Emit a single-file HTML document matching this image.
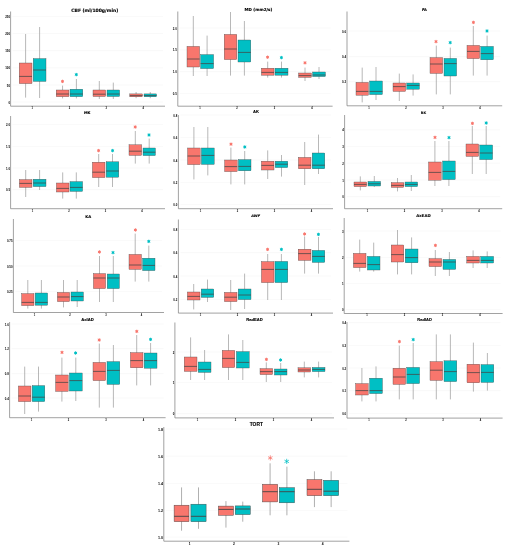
<!DOCTYPE html>
<html lang="en"><head><meta charset="utf-8"><title>Box plots</title>
<style>html,body{margin:0;padding:0;background:#fff}svg{display:block}</style></head><body>
<svg width="511" height="550" viewBox="0 0 511 550">
<rect width="511" height="550" fill="#fff"/>
<g>
<line x1="12.6" y1="16.4" x2="163" y2="16.4" stroke="#f3f3f3" stroke-width="0.5"/>
<line x1="12.6" y1="33.5" x2="163" y2="33.5" stroke="#f3f3f3" stroke-width="0.5"/>
<line x1="12.6" y1="50.6" x2="163" y2="50.6" stroke="#f3f3f3" stroke-width="0.5"/>
<line x1="12.6" y1="67.8" x2="163" y2="67.8" stroke="#f3f3f3" stroke-width="0.5"/>
<line x1="12.6" y1="85" x2="163" y2="85" stroke="#f3f3f3" stroke-width="0.5"/>
<line x1="12.6" y1="102" x2="163" y2="102" stroke="#f3f3f3" stroke-width="0.5"/>
<path d="M10.6 11.5V106.2H165" fill="none" stroke="#7a7a7a" stroke-width="0.7"/>
<text x="10.0" y="18.04" font-size="2.9" text-anchor="end" font-family="Liberation Sans, sans-serif" font-weight="bold" fill="#000">250</text>
<text x="10.0" y="35.14" font-size="2.9" text-anchor="end" font-family="Liberation Sans, sans-serif" font-weight="bold" fill="#000">200</text>
<text x="10.0" y="52.24" font-size="2.9" text-anchor="end" font-family="Liberation Sans, sans-serif" font-weight="bold" fill="#000">150</text>
<text x="10.0" y="69.44" font-size="2.9" text-anchor="end" font-family="Liberation Sans, sans-serif" font-weight="bold" fill="#000">100</text>
<text x="10.0" y="86.64" font-size="2.9" text-anchor="end" font-family="Liberation Sans, sans-serif" font-weight="bold" fill="#000">50</text>
<text x="10.0" y="103.64" font-size="2.9" text-anchor="end" font-family="Liberation Sans, sans-serif" font-weight="bold" fill="#000">0</text>
<text x="32.2" y="109.1" font-size="2.6" text-anchor="middle" font-family="Liberation Sans, sans-serif" font-weight="bold" fill="#000">1</text>
<text x="69.5" y="109.1" font-size="2.6" text-anchor="middle" font-family="Liberation Sans, sans-serif" font-weight="bold" fill="#000">2</text>
<text x="106.2" y="109.1" font-size="2.6" text-anchor="middle" font-family="Liberation Sans, sans-serif" font-weight="bold" fill="#000">3</text>
<text x="143.2" y="109.1" font-size="2.6" text-anchor="middle" font-family="Liberation Sans, sans-serif" font-weight="bold" fill="#000">4</text>
<text x="94.7" y="11.8" font-size="4.5" text-anchor="middle" font-family="DejaVu Sans, Liberation Sans, sans-serif" font-weight="bold" fill="#000" stroke="#000" stroke-width="0.12">CBF (ml/100g/min)</text>
<line x1="25.60" y1="34" x2="25.60" y2="97.6" stroke="#929292" stroke-width="0.65"/>
<rect x="19.2" y="63" width="12.80" height="20.60" fill="#F8766D" stroke="#444" stroke-width="0.35"/>
<line x1="19.2" y1="76.4" x2="32" y2="76.4" stroke="#444" stroke-width="0.75"/>
<line x1="39.60" y1="27" x2="39.60" y2="98" stroke="#929292" stroke-width="0.65"/>
<rect x="33.2" y="58.6" width="12.80" height="22.80" fill="#00BFC4" stroke="#444" stroke-width="0.35"/>
<line x1="33.2" y1="70" x2="46" y2="70" stroke="#444" stroke-width="0.75"/>
<line x1="62.55" y1="85.6" x2="62.55" y2="98.4" stroke="#929292" stroke-width="0.65"/>
<rect x="56.2" y="90" width="12.70" height="6.70" fill="#F8766D" stroke="#444" stroke-width="0.35"/>
<line x1="56.2" y1="94" x2="68.9" y2="94" stroke="#444" stroke-width="0.75"/>
<g stroke="#F8766D" stroke-width="0.9" stroke-linecap="round" fill="#F8766D"><line x1="62.50" y1="80.10" x2="62.50" y2="82.70"/><line x1="61.37" y1="80.75" x2="63.63" y2="82.05"/><line x1="63.63" y1="80.75" x2="61.37" y2="82.05"/><circle cx="62.5" cy="81.4" r="1.15" stroke="none"/></g>
<line x1="76.40" y1="79" x2="76.40" y2="98.4" stroke="#929292" stroke-width="0.65"/>
<rect x="70" y="89.2" width="12.80" height="7.50" fill="#00BFC4" stroke="#444" stroke-width="0.35"/>
<line x1="70" y1="94" x2="82.8" y2="94" stroke="#444" stroke-width="0.75"/>
<g stroke="#00BFC4" stroke-width="0.9" stroke-linecap="round" fill="#00BFC4"><line x1="76.30" y1="73.30" x2="76.30" y2="75.90"/><line x1="75.17" y1="73.95" x2="77.43" y2="75.25"/><line x1="77.43" y1="73.95" x2="75.17" y2="75.25"/><circle cx="76.3" cy="74.6" r="1.15" stroke="none"/></g>
<line x1="99.30" y1="81" x2="99.30" y2="99" stroke="#929292" stroke-width="0.65"/>
<rect x="93" y="90" width="12.60" height="6.50" fill="#F8766D" stroke="#444" stroke-width="0.35"/>
<line x1="93" y1="94.2" x2="105.6" y2="94.2" stroke="#444" stroke-width="0.75"/>
<line x1="113.30" y1="82.6" x2="113.30" y2="99" stroke="#929292" stroke-width="0.65"/>
<rect x="107" y="90" width="12.60" height="6.50" fill="#00BFC4" stroke="#444" stroke-width="0.35"/>
<line x1="107" y1="94.0" x2="119.6" y2="94.0" stroke="#444" stroke-width="0.75"/>
<line x1="136.10" y1="92" x2="136.10" y2="98.2" stroke="#929292" stroke-width="0.65"/>
<rect x="129.8" y="93.9" width="12.60" height="2.90" fill="#F8766D" stroke="#444" stroke-width="0.35"/>
<line x1="129.8" y1="95.6" x2="142.4" y2="95.6" stroke="#444" stroke-width="0.75"/>
<line x1="150.25" y1="92" x2="150.25" y2="98.2" stroke="#929292" stroke-width="0.65"/>
<rect x="144" y="93.9" width="12.50" height="2.90" fill="#00BFC4" stroke="#444" stroke-width="0.35"/>
<line x1="144" y1="95.6" x2="156.5" y2="95.6" stroke="#444" stroke-width="0.75"/>
</g>
<g>
<line x1="179.8" y1="28" x2="330.6" y2="28" stroke="#f3f3f3" stroke-width="0.5"/>
<line x1="179.8" y1="49.8" x2="330.6" y2="49.8" stroke="#f3f3f3" stroke-width="0.5"/>
<line x1="179.8" y1="71.6" x2="330.6" y2="71.6" stroke="#f3f3f3" stroke-width="0.5"/>
<line x1="179.8" y1="93.4" x2="330.6" y2="93.4" stroke="#f3f3f3" stroke-width="0.5"/>
<path d="M177.8 11.5V106.2H332.6" fill="none" stroke="#7a7a7a" stroke-width="0.7"/>
<text x="176.8" y="29.64" font-size="2.9" text-anchor="end" font-family="Liberation Sans, sans-serif" font-weight="bold" fill="#000">2.0</text>
<text x="176.8" y="51.44" font-size="2.9" text-anchor="end" font-family="Liberation Sans, sans-serif" font-weight="bold" fill="#000">1.5</text>
<text x="176.8" y="73.24" font-size="2.9" text-anchor="end" font-family="Liberation Sans, sans-serif" font-weight="bold" fill="#000">1.0</text>
<text x="176.8" y="95.04" font-size="2.9" text-anchor="end" font-family="Liberation Sans, sans-serif" font-weight="bold" fill="#000">0.5</text>
<text x="200" y="109.1" font-size="2.6" text-anchor="middle" font-family="Liberation Sans, sans-serif" font-weight="bold" fill="#000">1</text>
<text x="237" y="109.1" font-size="2.6" text-anchor="middle" font-family="Liberation Sans, sans-serif" font-weight="bold" fill="#000">2</text>
<text x="274.6" y="109.1" font-size="2.6" text-anchor="middle" font-family="Liberation Sans, sans-serif" font-weight="bold" fill="#000">3</text>
<text x="312" y="109.1" font-size="2.6" text-anchor="middle" font-family="Liberation Sans, sans-serif" font-weight="bold" fill="#000">4</text>
<text x="258.4" y="10.5" font-size="4.07" text-anchor="middle" font-family="DejaVu Sans, Liberation Sans, sans-serif" font-weight="bold" fill="#000" stroke="#000" stroke-width="0.12">MD (mm2/s)</text>
<line x1="193.30" y1="16" x2="193.30" y2="76" stroke="#929292" stroke-width="0.65"/>
<rect x="187" y="46.4" width="12.60" height="20.60" fill="#F8766D" stroke="#444" stroke-width="0.35"/>
<line x1="187" y1="59" x2="199.6" y2="59" stroke="#444" stroke-width="0.75"/>
<line x1="207.10" y1="35.6" x2="207.10" y2="76" stroke="#929292" stroke-width="0.65"/>
<rect x="200.6" y="54.6" width="13.00" height="14.00" fill="#00BFC4" stroke="#444" stroke-width="0.35"/>
<line x1="200.6" y1="63.6" x2="213.6" y2="63.6" stroke="#444" stroke-width="0.75"/>
<line x1="230.50" y1="12" x2="230.50" y2="75.6" stroke="#929292" stroke-width="0.65"/>
<rect x="224.2" y="34.4" width="12.60" height="25.20" fill="#F8766D" stroke="#444" stroke-width="0.35"/>
<line x1="224.2" y1="49" x2="236.8" y2="49" stroke="#444" stroke-width="0.75"/>
<line x1="244.40" y1="21" x2="244.40" y2="75.6" stroke="#929292" stroke-width="0.65"/>
<rect x="238" y="40" width="12.80" height="22.00" fill="#00BFC4" stroke="#444" stroke-width="0.35"/>
<line x1="238" y1="52.4" x2="250.8" y2="52.4" stroke="#444" stroke-width="0.75"/>
<line x1="267.70" y1="61.6" x2="267.70" y2="77.6" stroke="#929292" stroke-width="0.65"/>
<rect x="261.4" y="68.2" width="12.60" height="7.00" fill="#F8766D" stroke="#444" stroke-width="0.35"/>
<line x1="261.4" y1="72.4" x2="274" y2="72.4" stroke="#444" stroke-width="0.75"/>
<g stroke="#F8766D" stroke-width="0.9" stroke-linecap="round" fill="#F8766D"><line x1="267.60" y1="55.90" x2="267.60" y2="58.50"/><line x1="266.47" y1="56.55" x2="268.73" y2="57.85"/><line x1="268.73" y1="56.55" x2="266.47" y2="57.85"/><circle cx="267.6" cy="57.2" r="1.15" stroke="none"/></g>
<line x1="281.50" y1="61.6" x2="281.50" y2="77.6" stroke="#929292" stroke-width="0.65"/>
<rect x="275" y="68.2" width="13.00" height="7.00" fill="#00BFC4" stroke="#444" stroke-width="0.35"/>
<line x1="275" y1="72.4" x2="288" y2="72.4" stroke="#444" stroke-width="0.75"/>
<g stroke="#00BFC4" stroke-width="0.9" stroke-linecap="round" fill="#00BFC4"><line x1="281.40" y1="56.30" x2="281.40" y2="58.90"/><line x1="280.27" y1="56.95" x2="282.53" y2="58.25"/><line x1="282.53" y1="56.95" x2="280.27" y2="58.25"/><circle cx="281.4" cy="57.6" r="1.15" stroke="none"/></g>
<line x1="305.00" y1="67.6" x2="305.00" y2="81" stroke="#929292" stroke-width="0.65"/>
<rect x="298.6" y="73" width="12.80" height="4.40" fill="#F8766D" stroke="#444" stroke-width="0.35"/>
<line x1="298.6" y1="75.6" x2="311.4" y2="75.6" stroke="#444" stroke-width="0.75"/>
<g stroke="#F8766D" stroke-width="0.9" stroke-linecap="round" fill="#F8766D"><line x1="305.00" y1="61.50" x2="305.00" y2="64.10"/><line x1="303.87" y1="62.15" x2="306.13" y2="63.45"/><line x1="306.13" y1="62.15" x2="303.87" y2="63.45"/><circle cx="305" cy="62.8" r="1.15" stroke="none"/></g>
<line x1="319.00" y1="67" x2="319.00" y2="79" stroke="#929292" stroke-width="0.65"/>
<rect x="312.6" y="72" width="12.80" height="4.60" fill="#00BFC4" stroke="#444" stroke-width="0.35"/>
<line x1="312.6" y1="75" x2="325.4" y2="75" stroke="#444" stroke-width="0.75"/>
</g>
<g>
<line x1="349" y1="31" x2="500.2" y2="31" stroke="#f3f3f3" stroke-width="0.5"/>
<line x1="349" y1="56.6" x2="500.2" y2="56.6" stroke="#f3f3f3" stroke-width="0.5"/>
<line x1="349" y1="81.6" x2="500.2" y2="81.6" stroke="#f3f3f3" stroke-width="0.5"/>
<path d="M347 11.5V105.8H502.2" fill="none" stroke="#7a7a7a" stroke-width="0.7"/>
<text x="346" y="32.64" font-size="2.9" text-anchor="end" font-family="Liberation Sans, sans-serif" font-weight="bold" fill="#000">0.6</text>
<text x="346" y="58.24" font-size="2.9" text-anchor="end" font-family="Liberation Sans, sans-serif" font-weight="bold" fill="#000">0.4</text>
<text x="346" y="83.24" font-size="2.9" text-anchor="end" font-family="Liberation Sans, sans-serif" font-weight="bold" fill="#000">0.2</text>
<text x="369" y="108.8" font-size="2.6" text-anchor="middle" font-family="Liberation Sans, sans-serif" font-weight="bold" fill="#000">1</text>
<text x="406" y="108.8" font-size="2.6" text-anchor="middle" font-family="Liberation Sans, sans-serif" font-weight="bold" fill="#000">2</text>
<text x="443" y="108.8" font-size="2.6" text-anchor="middle" font-family="Liberation Sans, sans-serif" font-weight="bold" fill="#000">3</text>
<text x="480" y="108.8" font-size="2.6" text-anchor="middle" font-family="Liberation Sans, sans-serif" font-weight="bold" fill="#000">4</text>
<text x="424.5" y="10.5" font-size="3.6" text-anchor="middle" font-family="DejaVu Sans, Liberation Sans, sans-serif" font-weight="bold" fill="#000" stroke="#000" stroke-width="0.12">FA</text>
<line x1="362.20" y1="67.6" x2="362.20" y2="102.4" stroke="#929292" stroke-width="0.65"/>
<rect x="356" y="82.4" width="12.40" height="12.80" fill="#F8766D" stroke="#444" stroke-width="0.35"/>
<line x1="356" y1="91.4" x2="368.4" y2="91.4" stroke="#444" stroke-width="0.75"/>
<line x1="376.00" y1="67" x2="376.00" y2="100" stroke="#929292" stroke-width="0.65"/>
<rect x="369.6" y="81" width="12.80" height="13.60" fill="#00BFC4" stroke="#444" stroke-width="0.35"/>
<line x1="369.6" y1="91.4" x2="382.4" y2="91.4" stroke="#444" stroke-width="0.75"/>
<line x1="399.30" y1="73.6" x2="399.30" y2="101" stroke="#929292" stroke-width="0.65"/>
<rect x="393" y="83" width="12.60" height="8.40" fill="#F8766D" stroke="#444" stroke-width="0.35"/>
<line x1="393" y1="86.6" x2="405.6" y2="86.6" stroke="#444" stroke-width="0.75"/>
<line x1="413.10" y1="74.4" x2="413.10" y2="95.6" stroke="#929292" stroke-width="0.65"/>
<rect x="406.8" y="83" width="12.60" height="6.20" fill="#00BFC4" stroke="#444" stroke-width="0.35"/>
<line x1="406.8" y1="85.4" x2="419.4" y2="85.4" stroke="#444" stroke-width="0.75"/>
<line x1="436.30" y1="45.6" x2="436.30" y2="94.4" stroke="#929292" stroke-width="0.65"/>
<rect x="430" y="57.6" width="12.60" height="15.80" fill="#F8766D" stroke="#444" stroke-width="0.35"/>
<line x1="430" y1="64" x2="442.6" y2="64" stroke="#444" stroke-width="0.75"/>
<g stroke="#F8766D" stroke-width="0.9" stroke-linecap="round" fill="#F8766D"><line x1="436.00" y1="40.30" x2="436.00" y2="42.90"/><line x1="434.87" y1="40.95" x2="437.13" y2="42.25"/><line x1="437.13" y1="40.95" x2="434.87" y2="42.25"/><circle cx="436" cy="41.6" r="1.15" stroke="none"/></g>
<line x1="450.30" y1="47.6" x2="450.30" y2="94.4" stroke="#929292" stroke-width="0.65"/>
<rect x="444" y="58.4" width="12.60" height="17.60" fill="#00BFC4" stroke="#444" stroke-width="0.35"/>
<line x1="444" y1="63.6" x2="456.6" y2="63.6" stroke="#444" stroke-width="0.75"/>
<g stroke="#00BFC4" stroke-width="0.9" stroke-linecap="round" fill="#00BFC4"><line x1="450.20" y1="41.30" x2="450.20" y2="43.90"/><line x1="449.07" y1="41.95" x2="451.33" y2="43.25"/><line x1="451.33" y1="41.95" x2="449.07" y2="43.25"/><circle cx="450.2" cy="42.6" r="1.15" stroke="none"/></g>
<line x1="473.30" y1="26" x2="473.30" y2="75.6" stroke="#929292" stroke-width="0.65"/>
<rect x="467" y="45.4" width="12.60" height="13.20" fill="#F8766D" stroke="#444" stroke-width="0.35"/>
<line x1="467" y1="51.4" x2="479.6" y2="51.4" stroke="#444" stroke-width="0.75"/>
<g stroke="#F8766D" stroke-width="0.9" stroke-linecap="round" fill="#F8766D"><line x1="473.40" y1="21.10" x2="473.40" y2="23.70"/><line x1="472.27" y1="21.75" x2="474.53" y2="23.05"/><line x1="474.53" y1="21.75" x2="472.27" y2="23.05"/><circle cx="473.4" cy="22.4" r="1.15" stroke="none"/></g>
<line x1="487.10" y1="35.6" x2="487.10" y2="75.6" stroke="#929292" stroke-width="0.65"/>
<rect x="480.8" y="46.4" width="12.60" height="13.40" fill="#00BFC4" stroke="#444" stroke-width="0.35"/>
<line x1="480.8" y1="53.6" x2="493.4" y2="53.6" stroke="#444" stroke-width="0.75"/>
<g stroke="#00BFC4" stroke-width="0.9" stroke-linecap="round" fill="#00BFC4"><line x1="487.00" y1="29.70" x2="487.00" y2="32.30"/><line x1="485.87" y1="30.35" x2="488.13" y2="31.65"/><line x1="488.13" y1="30.35" x2="485.87" y2="31.65"/><circle cx="487" cy="31" r="1.15" stroke="none"/></g>
</g>
<g>
<line x1="12.6" y1="124.4" x2="163" y2="124.4" stroke="#f3f3f3" stroke-width="0.5"/>
<line x1="12.6" y1="146.4" x2="163" y2="146.4" stroke="#f3f3f3" stroke-width="0.5"/>
<line x1="12.6" y1="168" x2="163" y2="168" stroke="#f3f3f3" stroke-width="0.5"/>
<line x1="12.6" y1="189.6" x2="163" y2="189.6" stroke="#f3f3f3" stroke-width="0.5"/>
<path d="M10.6 116V208.7H165" fill="none" stroke="#7a7a7a" stroke-width="0.7"/>
<text x="10.0" y="126.04" font-size="2.9" text-anchor="end" font-family="Liberation Sans, sans-serif" font-weight="bold" fill="#000">2.0</text>
<text x="10.0" y="148.04" font-size="2.9" text-anchor="end" font-family="Liberation Sans, sans-serif" font-weight="bold" fill="#000">1.5</text>
<text x="10.0" y="169.64" font-size="2.9" text-anchor="end" font-family="Liberation Sans, sans-serif" font-weight="bold" fill="#000">1.0</text>
<text x="10.0" y="191.24" font-size="2.9" text-anchor="end" font-family="Liberation Sans, sans-serif" font-weight="bold" fill="#000">0.5</text>
<text x="32.4" y="211.8" font-size="2.6" text-anchor="middle" font-family="Liberation Sans, sans-serif" font-weight="bold" fill="#000">1</text>
<text x="69" y="211.8" font-size="2.6" text-anchor="middle" font-family="Liberation Sans, sans-serif" font-weight="bold" fill="#000">2</text>
<text x="105.6" y="211.8" font-size="2.6" text-anchor="middle" font-family="Liberation Sans, sans-serif" font-weight="bold" fill="#000">3</text>
<text x="142" y="211.8" font-size="2.6" text-anchor="middle" font-family="Liberation Sans, sans-serif" font-weight="bold" fill="#000">4</text>
<text x="87.2" y="113.8" font-size="3.62" text-anchor="middle" font-family="DejaVu Sans, Liberation Sans, sans-serif" font-weight="bold" fill="#000" stroke="#000" stroke-width="0.12">MK</text>
<line x1="25.70" y1="170" x2="25.70" y2="197" stroke="#929292" stroke-width="0.65"/>
<rect x="19.4" y="179.6" width="12.60" height="7.80" fill="#F8766D" stroke="#444" stroke-width="0.35"/>
<line x1="19.4" y1="183.4" x2="32" y2="183.4" stroke="#444" stroke-width="0.75"/>
<line x1="39.60" y1="170" x2="39.60" y2="190" stroke="#929292" stroke-width="0.65"/>
<rect x="33.2" y="179.2" width="12.80" height="7.40" fill="#00BFC4" stroke="#444" stroke-width="0.35"/>
<line x1="33.2" y1="183" x2="46" y2="183" stroke="#444" stroke-width="0.75"/>
<line x1="62.70" y1="172.4" x2="62.70" y2="198.6" stroke="#929292" stroke-width="0.65"/>
<rect x="56.4" y="183" width="12.60" height="9.00" fill="#F8766D" stroke="#444" stroke-width="0.35"/>
<line x1="56.4" y1="188.4" x2="69" y2="188.4" stroke="#444" stroke-width="0.75"/>
<line x1="76.30" y1="172.4" x2="76.30" y2="198.6" stroke="#929292" stroke-width="0.65"/>
<rect x="70" y="181.6" width="12.60" height="9.80" fill="#00BFC4" stroke="#444" stroke-width="0.35"/>
<line x1="70" y1="187.4" x2="82.6" y2="187.4" stroke="#444" stroke-width="0.75"/>
<line x1="98.70" y1="154" x2="98.70" y2="187" stroke="#929292" stroke-width="0.65"/>
<rect x="92.4" y="162.2" width="12.60" height="15.40" fill="#F8766D" stroke="#444" stroke-width="0.35"/>
<line x1="92.4" y1="172.2" x2="105" y2="172.2" stroke="#444" stroke-width="0.75"/>
<g stroke="#F8766D" stroke-width="0.9" stroke-linecap="round" fill="#F8766D"><line x1="98.60" y1="149.30" x2="98.60" y2="151.90"/><line x1="97.47" y1="149.95" x2="99.73" y2="151.25"/><line x1="99.73" y1="149.95" x2="97.47" y2="151.25"/><circle cx="98.6" cy="150.6" r="1.15" stroke="none"/></g>
<line x1="112.50" y1="154" x2="112.50" y2="187" stroke="#929292" stroke-width="0.65"/>
<rect x="106.2" y="161.8" width="12.60" height="15.40" fill="#00BFC4" stroke="#444" stroke-width="0.35"/>
<line x1="106.2" y1="171" x2="118.8" y2="171" stroke="#444" stroke-width="0.75"/>
<g stroke="#00BFC4" stroke-width="0.9" stroke-linecap="round" fill="#00BFC4"><line x1="112.60" y1="149.30" x2="112.60" y2="151.90"/><line x1="111.47" y1="149.95" x2="113.73" y2="151.25"/><line x1="113.73" y1="149.95" x2="111.47" y2="151.25"/><circle cx="112.6" cy="150.6" r="1.15" stroke="none"/></g>
<line x1="135.30" y1="131" x2="135.30" y2="163.6" stroke="#929292" stroke-width="0.65"/>
<rect x="129" y="144.8" width="12.60" height="10.60" fill="#F8766D" stroke="#444" stroke-width="0.35"/>
<line x1="129" y1="151.2" x2="141.6" y2="151.2" stroke="#444" stroke-width="0.75"/>
<g stroke="#F8766D" stroke-width="0.9" stroke-linecap="round" fill="#F8766D"><line x1="135.20" y1="125.70" x2="135.20" y2="128.30"/><line x1="134.07" y1="126.35" x2="136.33" y2="127.65"/><line x1="136.33" y1="126.35" x2="134.07" y2="127.65"/><circle cx="135.2" cy="127" r="1.15" stroke="none"/></g>
<line x1="149.20" y1="138.6" x2="149.20" y2="163.6" stroke="#929292" stroke-width="0.65"/>
<rect x="143" y="148" width="12.40" height="7.60" fill="#00BFC4" stroke="#444" stroke-width="0.35"/>
<line x1="143" y1="152.2" x2="155.4" y2="152.2" stroke="#444" stroke-width="0.75"/>
<g stroke="#00BFC4" stroke-width="0.9" stroke-linecap="round" fill="#00BFC4"><line x1="149.00" y1="133.70" x2="149.00" y2="136.30"/><line x1="147.87" y1="134.35" x2="150.13" y2="135.65"/><line x1="150.13" y1="134.35" x2="147.87" y2="135.65"/><circle cx="149" cy="135" r="1.15" stroke="none"/></g>
</g>
<g>
<line x1="180.4" y1="115" x2="331" y2="115" stroke="#f3f3f3" stroke-width="0.5"/>
<line x1="180.4" y1="137.4" x2="331" y2="137.4" stroke="#f3f3f3" stroke-width="0.5"/>
<line x1="180.4" y1="160" x2="331" y2="160" stroke="#f3f3f3" stroke-width="0.5"/>
<line x1="180.4" y1="182.4" x2="331" y2="182.4" stroke="#f3f3f3" stroke-width="0.5"/>
<line x1="180.4" y1="204.4" x2="331" y2="204.4" stroke="#f3f3f3" stroke-width="0.5"/>
<path d="M178.4 115V208.7H333" fill="none" stroke="#7a7a7a" stroke-width="0.7"/>
<text x="177.4" y="116.64" font-size="2.9" text-anchor="end" font-family="Liberation Sans, sans-serif" font-weight="bold" fill="#000">0.8</text>
<text x="177.4" y="139.04" font-size="2.9" text-anchor="end" font-family="Liberation Sans, sans-serif" font-weight="bold" fill="#000">0.6</text>
<text x="177.4" y="161.64" font-size="2.9" text-anchor="end" font-family="Liberation Sans, sans-serif" font-weight="bold" fill="#000">0.4</text>
<text x="177.4" y="184.04" font-size="2.9" text-anchor="end" font-family="Liberation Sans, sans-serif" font-weight="bold" fill="#000">0.2</text>
<text x="177.4" y="206.04" font-size="2.9" text-anchor="end" font-family="Liberation Sans, sans-serif" font-weight="bold" fill="#000">0.0</text>
<text x="200.4" y="211.8" font-size="2.6" text-anchor="middle" font-family="Liberation Sans, sans-serif" font-weight="bold" fill="#000">1</text>
<text x="237.4" y="211.8" font-size="2.6" text-anchor="middle" font-family="Liberation Sans, sans-serif" font-weight="bold" fill="#000">2</text>
<text x="274.6" y="211.8" font-size="2.6" text-anchor="middle" font-family="Liberation Sans, sans-serif" font-weight="bold" fill="#000">3</text>
<text x="311.4" y="211.8" font-size="2.6" text-anchor="middle" font-family="Liberation Sans, sans-serif" font-weight="bold" fill="#000">4</text>
<text x="256" y="113.3" font-size="4.08" text-anchor="middle" font-family="Liberation Sans, sans-serif" font-weight="bold" fill="#000" stroke="#000" stroke-width="0.12">AK</text>
<line x1="193.90" y1="127" x2="193.90" y2="179.4" stroke="#929292" stroke-width="0.65"/>
<rect x="187.6" y="148" width="12.60" height="16.60" fill="#F8766D" stroke="#444" stroke-width="0.35"/>
<line x1="187.6" y1="156" x2="200.2" y2="156" stroke="#444" stroke-width="0.75"/>
<line x1="207.80" y1="127" x2="207.80" y2="175.4" stroke="#929292" stroke-width="0.65"/>
<rect x="201.4" y="148" width="12.80" height="16.40" fill="#00BFC4" stroke="#444" stroke-width="0.35"/>
<line x1="201.4" y1="155.4" x2="214.2" y2="155.4" stroke="#444" stroke-width="0.75"/>
<line x1="230.90" y1="147.6" x2="230.90" y2="184.4" stroke="#929292" stroke-width="0.65"/>
<rect x="224.6" y="160" width="12.60" height="11.60" fill="#F8766D" stroke="#444" stroke-width="0.35"/>
<line x1="224.6" y1="166.6" x2="237.2" y2="166.6" stroke="#444" stroke-width="0.75"/>
<g stroke="#F8766D" stroke-width="0.9" stroke-linecap="round" fill="#F8766D"><line x1="231.00" y1="142.90" x2="231.00" y2="145.50"/><line x1="229.87" y1="143.55" x2="232.13" y2="144.85"/><line x1="232.13" y1="143.55" x2="229.87" y2="144.85"/><circle cx="231" cy="144.2" r="1.15" stroke="none"/></g>
<line x1="244.70" y1="151" x2="244.70" y2="184.4" stroke="#929292" stroke-width="0.65"/>
<rect x="238.4" y="159.6" width="12.60" height="11.20" fill="#00BFC4" stroke="#444" stroke-width="0.35"/>
<line x1="238.4" y1="166.4" x2="251" y2="166.4" stroke="#444" stroke-width="0.75"/>
<g stroke="#00BFC4" stroke-width="0.9" stroke-linecap="round" fill="#00BFC4"><line x1="244.80" y1="145.70" x2="244.80" y2="148.30"/><line x1="243.67" y1="146.35" x2="245.93" y2="147.65"/><line x1="245.93" y1="146.35" x2="243.67" y2="147.65"/><circle cx="244.8" cy="147" r="1.15" stroke="none"/></g>
<line x1="267.70" y1="150.4" x2="267.70" y2="179" stroke="#929292" stroke-width="0.65"/>
<rect x="261.4" y="161.2" width="12.60" height="8.80" fill="#F8766D" stroke="#444" stroke-width="0.35"/>
<line x1="261.4" y1="165.4" x2="274" y2="165.4" stroke="#444" stroke-width="0.75"/>
<line x1="281.50" y1="155" x2="281.50" y2="176.6" stroke="#929292" stroke-width="0.65"/>
<rect x="275.2" y="161.2" width="12.60" height="6.40" fill="#00BFC4" stroke="#444" stroke-width="0.35"/>
<line x1="275.2" y1="164.2" x2="287.8" y2="164.2" stroke="#444" stroke-width="0.75"/>
<line x1="304.70" y1="142" x2="304.70" y2="185" stroke="#929292" stroke-width="0.65"/>
<rect x="298.4" y="157.4" width="12.60" height="11.40" fill="#F8766D" stroke="#444" stroke-width="0.35"/>
<line x1="298.4" y1="165.2" x2="311" y2="165.2" stroke="#444" stroke-width="0.75"/>
<line x1="318.50" y1="134.6" x2="318.50" y2="174" stroke="#929292" stroke-width="0.65"/>
<rect x="312.2" y="153" width="12.60" height="15.80" fill="#00BFC4" stroke="#444" stroke-width="0.35"/>
<line x1="312.2" y1="165.2" x2="324.8" y2="165.2" stroke="#444" stroke-width="0.75"/>
</g>
<g>
<line x1="346.6" y1="129.8" x2="500.2" y2="129.8" stroke="#f3f3f3" stroke-width="0.5"/>
<line x1="346.6" y1="146.4" x2="500.2" y2="146.4" stroke="#f3f3f3" stroke-width="0.5"/>
<line x1="346.6" y1="163.2" x2="500.2" y2="163.2" stroke="#f3f3f3" stroke-width="0.5"/>
<line x1="346.6" y1="180" x2="500.2" y2="180" stroke="#f3f3f3" stroke-width="0.5"/>
<line x1="346.6" y1="196.6" x2="500.2" y2="196.6" stroke="#f3f3f3" stroke-width="0.5"/>
<path d="M344.6 115V208.7H502.2" fill="none" stroke="#7a7a7a" stroke-width="0.7"/>
<text x="343.8" y="131.44" font-size="2.9" text-anchor="end" font-family="Liberation Sans, sans-serif" font-weight="bold" fill="#000">4</text>
<text x="343.8" y="148.04" font-size="2.9" text-anchor="end" font-family="Liberation Sans, sans-serif" font-weight="bold" fill="#000">3</text>
<text x="343.8" y="164.84" font-size="2.9" text-anchor="end" font-family="Liberation Sans, sans-serif" font-weight="bold" fill="#000">2</text>
<text x="343.8" y="181.64" font-size="2.9" text-anchor="end" font-family="Liberation Sans, sans-serif" font-weight="bold" fill="#000">1</text>
<text x="343.8" y="198.24" font-size="2.9" text-anchor="end" font-family="Liberation Sans, sans-serif" font-weight="bold" fill="#000">0</text>
<text x="367.4" y="211.8" font-size="2.6" text-anchor="middle" font-family="Liberation Sans, sans-serif" font-weight="bold" fill="#000">1</text>
<text x="404.4" y="211.8" font-size="2.6" text-anchor="middle" font-family="Liberation Sans, sans-serif" font-weight="bold" fill="#000">2</text>
<text x="442" y="211.8" font-size="2.6" text-anchor="middle" font-family="Liberation Sans, sans-serif" font-weight="bold" fill="#000">3</text>
<text x="479" y="211.8" font-size="2.6" text-anchor="middle" font-family="Liberation Sans, sans-serif" font-weight="bold" fill="#000">4</text>
<text x="423.4" y="113.5" font-size="3.4" text-anchor="middle" font-family="DejaVu Sans, Liberation Sans, sans-serif" font-weight="bold" fill="#000" stroke="#000" stroke-width="0.12">RK</text>
<line x1="360.30" y1="176.4" x2="360.30" y2="190.4" stroke="#929292" stroke-width="0.65"/>
<rect x="354" y="182" width="12.60" height="4.60" fill="#F8766D" stroke="#444" stroke-width="0.35"/>
<line x1="354" y1="184.4" x2="366.6" y2="184.4" stroke="#444" stroke-width="0.75"/>
<line x1="374.30" y1="176" x2="374.30" y2="187" stroke="#929292" stroke-width="0.65"/>
<rect x="368" y="181.4" width="12.60" height="4.60" fill="#00BFC4" stroke="#444" stroke-width="0.35"/>
<line x1="368" y1="183.8" x2="380.6" y2="183.8" stroke="#444" stroke-width="0.75"/>
<line x1="397.50" y1="178" x2="397.50" y2="191.4" stroke="#929292" stroke-width="0.65"/>
<rect x="391.2" y="182.6" width="12.60" height="4.80" fill="#F8766D" stroke="#444" stroke-width="0.35"/>
<line x1="391.2" y1="185.4" x2="403.8" y2="185.4" stroke="#444" stroke-width="0.75"/>
<line x1="411.30" y1="175" x2="411.30" y2="191" stroke="#929292" stroke-width="0.65"/>
<rect x="405" y="182" width="12.60" height="4.60" fill="#00BFC4" stroke="#444" stroke-width="0.35"/>
<line x1="405" y1="184.4" x2="417.6" y2="184.4" stroke="#444" stroke-width="0.75"/>
<line x1="434.90" y1="141" x2="434.90" y2="186" stroke="#929292" stroke-width="0.65"/>
<rect x="428.6" y="162" width="12.60" height="18.20" fill="#F8766D" stroke="#444" stroke-width="0.35"/>
<line x1="428.6" y1="172.4" x2="441.2" y2="172.4" stroke="#444" stroke-width="0.75"/>
<g stroke="#F8766D" stroke-width="0.9" stroke-linecap="round" fill="#F8766D"><line x1="435.00" y1="136.10" x2="435.00" y2="138.70"/><line x1="433.87" y1="136.75" x2="436.13" y2="138.05"/><line x1="436.13" y1="136.75" x2="433.87" y2="138.05"/><circle cx="435" cy="137.4" r="1.15" stroke="none"/></g>
<line x1="448.90" y1="141" x2="448.90" y2="186" stroke="#929292" stroke-width="0.65"/>
<rect x="442.6" y="161" width="12.60" height="18.60" fill="#00BFC4" stroke="#444" stroke-width="0.35"/>
<line x1="442.6" y1="171.4" x2="455.2" y2="171.4" stroke="#444" stroke-width="0.75"/>
<g stroke="#00BFC4" stroke-width="0.9" stroke-linecap="round" fill="#00BFC4"><line x1="449.00" y1="136.30" x2="449.00" y2="138.90"/><line x1="447.87" y1="136.95" x2="450.13" y2="138.25"/><line x1="450.13" y1="136.95" x2="447.87" y2="138.25"/><circle cx="449" cy="137.6" r="1.15" stroke="none"/></g>
<line x1="472.30" y1="126" x2="472.30" y2="174" stroke="#929292" stroke-width="0.65"/>
<rect x="466" y="144" width="12.60" height="12.40" fill="#F8766D" stroke="#444" stroke-width="0.35"/>
<line x1="466" y1="152.4" x2="478.6" y2="152.4" stroke="#444" stroke-width="0.75"/>
<g stroke="#F8766D" stroke-width="0.9" stroke-linecap="round" fill="#F8766D"><line x1="472.40" y1="122.10" x2="472.40" y2="124.70"/><line x1="471.27" y1="122.75" x2="473.53" y2="124.05"/><line x1="473.53" y1="122.75" x2="471.27" y2="124.05"/><circle cx="472.4" cy="123.4" r="1.15" stroke="none"/></g>
<line x1="486.20" y1="126" x2="486.20" y2="174" stroke="#929292" stroke-width="0.65"/>
<rect x="479.8" y="145" width="12.80" height="14.60" fill="#00BFC4" stroke="#444" stroke-width="0.35"/>
<line x1="479.8" y1="153" x2="492.6" y2="153" stroke="#444" stroke-width="0.75"/>
<g stroke="#00BFC4" stroke-width="0.9" stroke-linecap="round" fill="#00BFC4"><line x1="486.20" y1="121.70" x2="486.20" y2="124.30"/><line x1="485.07" y1="122.35" x2="487.33" y2="123.65"/><line x1="487.33" y1="122.35" x2="485.07" y2="123.65"/><circle cx="486.2" cy="123" r="1.15" stroke="none"/></g>
</g>
<g>
<line x1="15.4" y1="240.4" x2="162" y2="240.4" stroke="#f3f3f3" stroke-width="0.5"/>
<line x1="15.4" y1="266" x2="162" y2="266" stroke="#f3f3f3" stroke-width="0.5"/>
<line x1="15.4" y1="291.4" x2="162" y2="291.4" stroke="#f3f3f3" stroke-width="0.5"/>
<path d="M13.4 219V312.5H164" fill="none" stroke="#7a7a7a" stroke-width="0.7"/>
<text x="12.6" y="242.04" font-size="2.9" text-anchor="end" font-family="Liberation Sans, sans-serif" font-weight="bold" fill="#000">0.75</text>
<text x="12.6" y="267.64" font-size="2.9" text-anchor="end" font-family="Liberation Sans, sans-serif" font-weight="bold" fill="#000">0.50</text>
<text x="12.6" y="293.04" font-size="2.9" text-anchor="end" font-family="Liberation Sans, sans-serif" font-weight="bold" fill="#000">0.25</text>
<text x="34.4" y="315.6" font-size="2.6" text-anchor="middle" font-family="Liberation Sans, sans-serif" font-weight="bold" fill="#000">1</text>
<text x="70" y="315.6" font-size="2.6" text-anchor="middle" font-family="Liberation Sans, sans-serif" font-weight="bold" fill="#000">2</text>
<text x="106" y="315.6" font-size="2.6" text-anchor="middle" font-family="Liberation Sans, sans-serif" font-weight="bold" fill="#000">3</text>
<text x="141.6" y="315.6" font-size="2.6" text-anchor="middle" font-family="Liberation Sans, sans-serif" font-weight="bold" fill="#000">4</text>
<text x="88.3" y="218" font-size="3.81" text-anchor="middle" font-family="DejaVu Sans, Liberation Sans, sans-serif" font-weight="bold" fill="#000" stroke="#000" stroke-width="0.12">KA</text>
<line x1="27.80" y1="280" x2="27.80" y2="308.6" stroke="#929292" stroke-width="0.65"/>
<rect x="21.6" y="293.6" width="12.40" height="12.00" fill="#F8766D" stroke="#444" stroke-width="0.35"/>
<line x1="21.6" y1="302.4" x2="34" y2="302.4" stroke="#444" stroke-width="0.75"/>
<line x1="41.40" y1="280" x2="41.40" y2="308.6" stroke="#929292" stroke-width="0.65"/>
<rect x="35.2" y="293" width="12.40" height="12.20" fill="#00BFC4" stroke="#444" stroke-width="0.35"/>
<line x1="35.2" y1="302.4" x2="47.6" y2="302.4" stroke="#444" stroke-width="0.75"/>
<line x1="63.50" y1="280" x2="63.50" y2="307.4" stroke="#929292" stroke-width="0.65"/>
<rect x="57.4" y="292.4" width="12.20" height="9.20" fill="#F8766D" stroke="#444" stroke-width="0.35"/>
<line x1="57.4" y1="297" x2="69.6" y2="297" stroke="#444" stroke-width="0.75"/>
<line x1="77.20" y1="280" x2="77.20" y2="307" stroke="#929292" stroke-width="0.65"/>
<rect x="71" y="292" width="12.40" height="9.00" fill="#00BFC4" stroke="#444" stroke-width="0.35"/>
<line x1="71" y1="296.6" x2="83.4" y2="296.6" stroke="#444" stroke-width="0.75"/>
<line x1="99.50" y1="256" x2="99.50" y2="302" stroke="#929292" stroke-width="0.65"/>
<rect x="93.4" y="273.6" width="12.20" height="15.00" fill="#F8766D" stroke="#444" stroke-width="0.35"/>
<line x1="93.4" y1="278" x2="105.6" y2="278" stroke="#444" stroke-width="0.75"/>
<g stroke="#F8766D" stroke-width="0.9" stroke-linecap="round" fill="#F8766D"><line x1="99.40" y1="250.70" x2="99.40" y2="253.30"/><line x1="98.27" y1="251.35" x2="100.53" y2="252.65"/><line x1="100.53" y1="251.35" x2="98.27" y2="252.65"/><circle cx="99.4" cy="252" r="1.15" stroke="none"/></g>
<line x1="113.30" y1="256" x2="113.30" y2="302" stroke="#929292" stroke-width="0.65"/>
<rect x="107.2" y="274" width="12.20" height="14.60" fill="#00BFC4" stroke="#444" stroke-width="0.35"/>
<line x1="107.2" y1="278" x2="119.4" y2="278" stroke="#444" stroke-width="0.75"/>
<g stroke="#00BFC4" stroke-width="0.9" stroke-linecap="round" fill="#00BFC4"><line x1="113.00" y1="251.30" x2="113.00" y2="253.90"/><line x1="111.87" y1="251.95" x2="114.13" y2="253.25"/><line x1="114.13" y1="251.95" x2="111.87" y2="253.25"/><circle cx="113" cy="252.6" r="1.15" stroke="none"/></g>
<line x1="135.20" y1="233.6" x2="135.20" y2="281.6" stroke="#929292" stroke-width="0.65"/>
<rect x="129" y="254.4" width="12.40" height="15.00" fill="#F8766D" stroke="#444" stroke-width="0.35"/>
<line x1="129" y1="265" x2="141.4" y2="265" stroke="#444" stroke-width="0.75"/>
<g stroke="#F8766D" stroke-width="0.9" stroke-linecap="round" fill="#F8766D"><line x1="135.40" y1="228.70" x2="135.40" y2="231.30"/><line x1="134.27" y1="229.35" x2="136.53" y2="230.65"/><line x1="136.53" y1="229.35" x2="134.27" y2="230.65"/><circle cx="135.4" cy="230" r="1.15" stroke="none"/></g>
<line x1="148.80" y1="245.6" x2="148.80" y2="281.6" stroke="#929292" stroke-width="0.65"/>
<rect x="142.6" y="258.2" width="12.40" height="12.40" fill="#00BFC4" stroke="#444" stroke-width="0.35"/>
<line x1="142.6" y1="265.4" x2="155" y2="265.4" stroke="#444" stroke-width="0.75"/>
<g stroke="#00BFC4" stroke-width="0.9" stroke-linecap="round" fill="#00BFC4"><line x1="148.80" y1="240.10" x2="148.80" y2="242.70"/><line x1="147.67" y1="240.75" x2="149.93" y2="242.05"/><line x1="149.93" y1="240.75" x2="147.67" y2="242.05"/><circle cx="148.8" cy="241.4" r="1.15" stroke="none"/></g>
</g>
<g>
<line x1="180.4" y1="229.4" x2="331" y2="229.4" stroke="#f3f3f3" stroke-width="0.5"/>
<line x1="180.4" y1="252.6" x2="331" y2="252.6" stroke="#f3f3f3" stroke-width="0.5"/>
<line x1="180.4" y1="276" x2="331" y2="276" stroke="#f3f3f3" stroke-width="0.5"/>
<line x1="180.4" y1="299.4" x2="331" y2="299.4" stroke="#f3f3f3" stroke-width="0.5"/>
<path d="M178.4 219.5V313.1H333" fill="none" stroke="#7a7a7a" stroke-width="0.7"/>
<text x="177.4" y="231.04" font-size="2.9" text-anchor="end" font-family="Liberation Sans, sans-serif" font-weight="bold" fill="#000">0.8</text>
<text x="177.4" y="254.24" font-size="2.9" text-anchor="end" font-family="Liberation Sans, sans-serif" font-weight="bold" fill="#000">0.6</text>
<text x="177.4" y="277.64" font-size="2.9" text-anchor="end" font-family="Liberation Sans, sans-serif" font-weight="bold" fill="#000">0.4</text>
<text x="177.4" y="301.04" font-size="2.9" text-anchor="end" font-family="Liberation Sans, sans-serif" font-weight="bold" fill="#000">0.2</text>
<text x="200.4" y="316.2" font-size="2.6" text-anchor="middle" font-family="Liberation Sans, sans-serif" font-weight="bold" fill="#000">1</text>
<text x="237.4" y="316.2" font-size="2.6" text-anchor="middle" font-family="Liberation Sans, sans-serif" font-weight="bold" fill="#000">2</text>
<text x="274.6" y="316.2" font-size="2.6" text-anchor="middle" font-family="Liberation Sans, sans-serif" font-weight="bold" fill="#000">3</text>
<text x="311.4" y="316.2" font-size="2.6" text-anchor="middle" font-family="Liberation Sans, sans-serif" font-weight="bold" fill="#000">4</text>
<text x="255.7" y="216.85" font-size="3.5" text-anchor="middle" font-family="DejaVu Sans, Liberation Sans, sans-serif" font-weight="bold" font-style="italic" fill="#000" stroke="#000" stroke-width="0.12">AWF</text>
<line x1="193.70" y1="284" x2="193.70" y2="309.4" stroke="#929292" stroke-width="0.65"/>
<rect x="187.4" y="292" width="12.60" height="8.00" fill="#F8766D" stroke="#444" stroke-width="0.35"/>
<line x1="187.4" y1="296.4" x2="200" y2="296.4" stroke="#444" stroke-width="0.75"/>
<line x1="207.50" y1="279.6" x2="207.50" y2="302" stroke="#929292" stroke-width="0.65"/>
<rect x="201.2" y="289" width="12.60" height="8.40" fill="#00BFC4" stroke="#444" stroke-width="0.35"/>
<line x1="201.2" y1="294.2" x2="213.8" y2="294.2" stroke="#444" stroke-width="0.75"/>
<line x1="230.70" y1="280" x2="230.70" y2="310" stroke="#929292" stroke-width="0.65"/>
<rect x="224.4" y="292.4" width="12.60" height="9.20" fill="#F8766D" stroke="#444" stroke-width="0.35"/>
<line x1="224.4" y1="297.2" x2="237" y2="297.2" stroke="#444" stroke-width="0.75"/>
<line x1="244.60" y1="273.6" x2="244.60" y2="309" stroke="#929292" stroke-width="0.65"/>
<rect x="238.2" y="289" width="12.80" height="10.60" fill="#00BFC4" stroke="#444" stroke-width="0.35"/>
<line x1="238.2" y1="295" x2="251" y2="295" stroke="#444" stroke-width="0.75"/>
<line x1="267.70" y1="254" x2="267.70" y2="300" stroke="#929292" stroke-width="0.65"/>
<rect x="261.4" y="261.6" width="12.60" height="21.00" fill="#F8766D" stroke="#444" stroke-width="0.35"/>
<line x1="261.4" y1="269.4" x2="274" y2="269.4" stroke="#444" stroke-width="0.75"/>
<g stroke="#F8766D" stroke-width="0.9" stroke-linecap="round" fill="#F8766D"><line x1="267.60" y1="248.10" x2="267.60" y2="250.70"/><line x1="266.47" y1="248.75" x2="268.73" y2="250.05"/><line x1="268.73" y1="248.75" x2="266.47" y2="250.05"/><circle cx="267.6" cy="249.4" r="1.15" stroke="none"/></g>
<line x1="281.40" y1="254" x2="281.40" y2="300" stroke="#929292" stroke-width="0.65"/>
<rect x="275" y="261.4" width="12.80" height="21.20" fill="#00BFC4" stroke="#444" stroke-width="0.35"/>
<line x1="275" y1="269.4" x2="287.8" y2="269.4" stroke="#444" stroke-width="0.75"/>
<g stroke="#00BFC4" stroke-width="0.9" stroke-linecap="round" fill="#00BFC4"><line x1="281.40" y1="248.10" x2="281.40" y2="250.70"/><line x1="280.27" y1="248.75" x2="282.53" y2="250.05"/><line x1="282.53" y1="248.75" x2="280.27" y2="250.05"/><circle cx="281.4" cy="249.4" r="1.15" stroke="none"/></g>
<line x1="304.60" y1="236.4" x2="304.60" y2="273.6" stroke="#929292" stroke-width="0.65"/>
<rect x="298.2" y="249.2" width="12.80" height="11.20" fill="#F8766D" stroke="#444" stroke-width="0.35"/>
<line x1="298.2" y1="253.6" x2="311" y2="253.6" stroke="#444" stroke-width="0.75"/>
<g stroke="#F8766D" stroke-width="0.9" stroke-linecap="round" fill="#F8766D"><line x1="304.60" y1="232.70" x2="304.60" y2="235.30"/><line x1="303.47" y1="233.35" x2="305.73" y2="234.65"/><line x1="305.73" y1="233.35" x2="303.47" y2="234.65"/><circle cx="304.6" cy="234" r="1.15" stroke="none"/></g>
<line x1="318.50" y1="237" x2="318.50" y2="273.6" stroke="#929292" stroke-width="0.65"/>
<rect x="312.2" y="250.4" width="12.60" height="12.00" fill="#00BFC4" stroke="#444" stroke-width="0.35"/>
<line x1="312.2" y1="256.4" x2="324.8" y2="256.4" stroke="#444" stroke-width="0.75"/>
<g stroke="#00BFC4" stroke-width="0.9" stroke-linecap="round" fill="#00BFC4"><line x1="318.40" y1="233.10" x2="318.40" y2="235.70"/><line x1="317.27" y1="233.75" x2="319.53" y2="235.05"/><line x1="319.53" y1="233.75" x2="317.27" y2="235.05"/><circle cx="318.4" cy="234.4" r="1.15" stroke="none"/></g>
</g>
<g>
<line x1="346.2" y1="231" x2="500.6" y2="231" stroke="#f3f3f3" stroke-width="0.5"/>
<line x1="346.2" y1="257.4" x2="500.6" y2="257.4" stroke="#f3f3f3" stroke-width="0.5"/>
<line x1="346.2" y1="283.4" x2="500.6" y2="283.4" stroke="#f3f3f3" stroke-width="0.5"/>
<line x1="346.2" y1="309.4" x2="500.6" y2="309.4" stroke="#f3f3f3" stroke-width="0.5"/>
<path d="M344.2 218V313.5H502.6" fill="none" stroke="#7a7a7a" stroke-width="0.7"/>
<text x="343.6" y="232.64" font-size="2.9" text-anchor="end" font-family="Liberation Sans, sans-serif" font-weight="bold" fill="#000">3</text>
<text x="343.6" y="259.04" font-size="2.9" text-anchor="end" font-family="Liberation Sans, sans-serif" font-weight="bold" fill="#000">2</text>
<text x="343.6" y="285.04" font-size="2.9" text-anchor="end" font-family="Liberation Sans, sans-serif" font-weight="bold" fill="#000">1</text>
<text x="343.6" y="311.04" font-size="2.9" text-anchor="end" font-family="Liberation Sans, sans-serif" font-weight="bold" fill="#000">0</text>
<text x="367" y="316.2" font-size="2.6" text-anchor="middle" font-family="Liberation Sans, sans-serif" font-weight="bold" fill="#000">1</text>
<text x="404.4" y="316.2" font-size="2.6" text-anchor="middle" font-family="Liberation Sans, sans-serif" font-weight="bold" fill="#000">2</text>
<text x="442.4" y="316.2" font-size="2.6" text-anchor="middle" font-family="Liberation Sans, sans-serif" font-weight="bold" fill="#000">3</text>
<text x="480" y="316.2" font-size="2.6" text-anchor="middle" font-family="Liberation Sans, sans-serif" font-weight="bold" fill="#000">4</text>
<text x="423.5" y="216.8" font-size="3.86" text-anchor="middle" font-family="DejaVu Sans, Liberation Sans, sans-serif" font-weight="bold" fill="#000" stroke="#000" stroke-width="0.12">AxEAD</text>
<line x1="359.70" y1="239.6" x2="359.70" y2="271.6" stroke="#929292" stroke-width="0.65"/>
<rect x="353.4" y="253.4" width="12.60" height="14.20" fill="#F8766D" stroke="#444" stroke-width="0.35"/>
<line x1="353.4" y1="263.4" x2="366" y2="263.4" stroke="#444" stroke-width="0.75"/>
<line x1="373.70" y1="242.6" x2="373.70" y2="271.6" stroke="#929292" stroke-width="0.65"/>
<rect x="367.4" y="256.4" width="12.60" height="13.60" fill="#00BFC4" stroke="#444" stroke-width="0.35"/>
<line x1="367.4" y1="264.6" x2="380" y2="264.6" stroke="#444" stroke-width="0.75"/>
<line x1="397.50" y1="230" x2="397.50" y2="274.4" stroke="#929292" stroke-width="0.65"/>
<rect x="391.2" y="245" width="12.60" height="17.00" fill="#F8766D" stroke="#444" stroke-width="0.35"/>
<line x1="391.2" y1="254.6" x2="403.8" y2="254.6" stroke="#444" stroke-width="0.75"/>
<line x1="411.60" y1="237.4" x2="411.60" y2="274.4" stroke="#929292" stroke-width="0.65"/>
<rect x="405.2" y="249" width="12.80" height="13.80" fill="#00BFC4" stroke="#444" stroke-width="0.35"/>
<line x1="405.2" y1="257.6" x2="418" y2="257.6" stroke="#444" stroke-width="0.75"/>
<line x1="435.30" y1="250" x2="435.30" y2="276" stroke="#929292" stroke-width="0.65"/>
<rect x="429" y="258.6" width="12.60" height="8.00" fill="#F8766D" stroke="#444" stroke-width="0.35"/>
<line x1="429" y1="262" x2="441.6" y2="262" stroke="#444" stroke-width="0.75"/>
<g stroke="#F8766D" stroke-width="0.9" stroke-linecap="round" fill="#F8766D"><line x1="435.40" y1="244.10" x2="435.40" y2="246.70"/><line x1="434.27" y1="244.75" x2="436.53" y2="246.05"/><line x1="436.53" y1="244.75" x2="434.27" y2="246.05"/><circle cx="435.4" cy="245.4" r="1.15" stroke="none"/></g>
<line x1="449.40" y1="252" x2="449.40" y2="276" stroke="#929292" stroke-width="0.65"/>
<rect x="443" y="259.4" width="12.80" height="10.00" fill="#00BFC4" stroke="#444" stroke-width="0.35"/>
<line x1="443" y1="262" x2="455.8" y2="262" stroke="#444" stroke-width="0.75"/>
<line x1="473.10" y1="250.4" x2="473.10" y2="268" stroke="#929292" stroke-width="0.65"/>
<rect x="466.8" y="256.4" width="12.60" height="6.60" fill="#F8766D" stroke="#444" stroke-width="0.35"/>
<line x1="466.8" y1="260.4" x2="479.4" y2="260.4" stroke="#444" stroke-width="0.75"/>
<line x1="487.20" y1="251.4" x2="487.20" y2="268" stroke="#929292" stroke-width="0.65"/>
<rect x="480.8" y="256.4" width="12.80" height="6.60" fill="#00BFC4" stroke="#444" stroke-width="0.35"/>
<line x1="480.8" y1="260.4" x2="493.6" y2="260.4" stroke="#444" stroke-width="0.75"/>
</g>
<g>
<line x1="11.6" y1="324" x2="163.6" y2="324" stroke="#f3f3f3" stroke-width="0.5"/>
<line x1="11.6" y1="348.6" x2="163.6" y2="348.6" stroke="#f3f3f3" stroke-width="0.5"/>
<line x1="11.6" y1="373.6" x2="163.6" y2="373.6" stroke="#f3f3f3" stroke-width="0.5"/>
<line x1="11.6" y1="398" x2="163.6" y2="398" stroke="#f3f3f3" stroke-width="0.5"/>
<path d="M9.6 322V417.7H165.6" fill="none" stroke="#7a7a7a" stroke-width="0.7"/>
<text x="8.8" y="325.64" font-size="2.9" text-anchor="end" font-family="Liberation Sans, sans-serif" font-weight="bold" fill="#000">1.6</text>
<text x="8.8" y="350.24" font-size="2.9" text-anchor="end" font-family="Liberation Sans, sans-serif" font-weight="bold" fill="#000">1.2</text>
<text x="8.8" y="375.24" font-size="2.9" text-anchor="end" font-family="Liberation Sans, sans-serif" font-weight="bold" fill="#000">0.8</text>
<text x="8.8" y="399.64" font-size="2.9" text-anchor="end" font-family="Liberation Sans, sans-serif" font-weight="bold" fill="#000">0.4</text>
<text x="31.6" y="420.8" font-size="2.6" text-anchor="middle" font-family="Liberation Sans, sans-serif" font-weight="bold" fill="#000">1</text>
<text x="68.6" y="420.8" font-size="2.6" text-anchor="middle" font-family="Liberation Sans, sans-serif" font-weight="bold" fill="#000">2</text>
<text x="106" y="420.8" font-size="2.6" text-anchor="middle" font-family="Liberation Sans, sans-serif" font-weight="bold" fill="#000">3</text>
<text x="143.4" y="420.8" font-size="2.6" text-anchor="middle" font-family="Liberation Sans, sans-serif" font-weight="bold" fill="#000">4</text>
<text x="87.5" y="320.8" font-size="4.2" text-anchor="middle" font-family="Liberation Sans, sans-serif" font-weight="bold" fill="#000" stroke="#000" stroke-width="0.12">AxIAD</text>
<line x1="24.70" y1="366.6" x2="24.70" y2="414" stroke="#929292" stroke-width="0.65"/>
<rect x="18.4" y="386" width="12.60" height="15.60" fill="#F8766D" stroke="#444" stroke-width="0.35"/>
<line x1="18.4" y1="396" x2="31" y2="396" stroke="#444" stroke-width="0.75"/>
<line x1="38.50" y1="366.6" x2="38.50" y2="411.6" stroke="#929292" stroke-width="0.65"/>
<rect x="32.2" y="385.6" width="12.60" height="16.00" fill="#00BFC4" stroke="#444" stroke-width="0.35"/>
<line x1="32.2" y1="397.2" x2="44.8" y2="397.2" stroke="#444" stroke-width="0.75"/>
<line x1="61.90" y1="357.6" x2="61.90" y2="401.6" stroke="#929292" stroke-width="0.65"/>
<rect x="55.6" y="375" width="12.60" height="16.40" fill="#F8766D" stroke="#444" stroke-width="0.35"/>
<line x1="55.6" y1="382.4" x2="68.2" y2="382.4" stroke="#444" stroke-width="0.75"/>
<g stroke="#F8766D" stroke-width="0.9" stroke-linecap="round" fill="#F8766D"><line x1="62.00" y1="351.10" x2="62.00" y2="353.70"/><line x1="60.87" y1="351.75" x2="63.13" y2="353.05"/><line x1="63.13" y1="351.75" x2="60.87" y2="353.05"/><circle cx="62" cy="352.4" r="1.15" stroke="none"/></g>
<line x1="75.80" y1="357.6" x2="75.80" y2="401" stroke="#929292" stroke-width="0.65"/>
<rect x="69.4" y="373" width="12.80" height="18.00" fill="#00BFC4" stroke="#444" stroke-width="0.35"/>
<line x1="69.4" y1="380.6" x2="82.2" y2="380.6" stroke="#444" stroke-width="0.75"/>
<g stroke="#00BFC4" stroke-width="0.9" stroke-linecap="round" fill="#00BFC4"><line x1="75.60" y1="351.70" x2="75.60" y2="354.30"/><line x1="74.47" y1="352.35" x2="76.73" y2="353.65"/><line x1="76.73" y1="352.35" x2="74.47" y2="353.65"/><circle cx="75.6" cy="353" r="1.15" stroke="none"/></g>
<line x1="99.30" y1="343.6" x2="99.30" y2="407.6" stroke="#929292" stroke-width="0.65"/>
<rect x="93" y="362.4" width="12.60" height="18.20" fill="#F8766D" stroke="#444" stroke-width="0.35"/>
<line x1="93" y1="371.4" x2="105.6" y2="371.4" stroke="#444" stroke-width="0.75"/>
<g stroke="#F8766D" stroke-width="0.9" stroke-linecap="round" fill="#F8766D"><line x1="99.20" y1="338.70" x2="99.20" y2="341.30"/><line x1="98.07" y1="339.35" x2="100.33" y2="340.65"/><line x1="100.33" y1="339.35" x2="98.07" y2="340.65"/><circle cx="99.2" cy="340" r="1.15" stroke="none"/></g>
<line x1="113.40" y1="345" x2="113.40" y2="407.6" stroke="#929292" stroke-width="0.65"/>
<rect x="107" y="361.6" width="12.80" height="22.80" fill="#00BFC4" stroke="#444" stroke-width="0.35"/>
<line x1="107" y1="370.4" x2="119.8" y2="370.4" stroke="#444" stroke-width="0.75"/>
<line x1="136.70" y1="335" x2="136.70" y2="385.4" stroke="#929292" stroke-width="0.65"/>
<rect x="130.4" y="352.6" width="12.60" height="15.20" fill="#F8766D" stroke="#444" stroke-width="0.35"/>
<line x1="130.4" y1="360.6" x2="143" y2="360.6" stroke="#444" stroke-width="0.75"/>
<g stroke="#F8766D" stroke-width="0.9" stroke-linecap="round" fill="#F8766D"><line x1="136.80" y1="330.10" x2="136.80" y2="332.70"/><line x1="135.67" y1="330.75" x2="137.93" y2="332.05"/><line x1="137.93" y1="330.75" x2="135.67" y2="332.05"/><circle cx="136.8" cy="331.4" r="1.15" stroke="none"/></g>
<line x1="150.60" y1="343" x2="150.60" y2="385.4" stroke="#929292" stroke-width="0.65"/>
<rect x="144.2" y="353" width="12.80" height="15.20" fill="#00BFC4" stroke="#444" stroke-width="0.35"/>
<line x1="144.2" y1="360.6" x2="157" y2="360.6" stroke="#444" stroke-width="0.75"/>
<g stroke="#00BFC4" stroke-width="0.9" stroke-linecap="round" fill="#00BFC4"><line x1="150.60" y1="338.10" x2="150.60" y2="340.70"/><line x1="149.47" y1="338.75" x2="151.73" y2="340.05"/><line x1="151.73" y1="338.75" x2="149.47" y2="340.05"/><circle cx="150.6" cy="339.4" r="1.15" stroke="none"/></g>
</g>
<g>
<line x1="176.9" y1="352" x2="332" y2="352" stroke="#f3f3f3" stroke-width="0.5"/>
<line x1="176.9" y1="382.4" x2="332" y2="382.4" stroke="#f3f3f3" stroke-width="0.5"/>
<line x1="176.9" y1="413.6" x2="332" y2="413.6" stroke="#f3f3f3" stroke-width="0.5"/>
<path d="M174.9 322.5V417.9H334" fill="none" stroke="#7a7a7a" stroke-width="0.7"/>
<text x="174.3" y="353.64" font-size="2.9" text-anchor="end" font-family="Liberation Sans, sans-serif" font-weight="bold" fill="#000">2</text>
<text x="174.3" y="384.04" font-size="2.9" text-anchor="end" font-family="Liberation Sans, sans-serif" font-weight="bold" fill="#000">1</text>
<text x="174.3" y="415.24" font-size="2.9" text-anchor="end" font-family="Liberation Sans, sans-serif" font-weight="bold" fill="#000">0</text>
<text x="197.4" y="420.8" font-size="2.6" text-anchor="middle" font-family="Liberation Sans, sans-serif" font-weight="bold" fill="#000">1</text>
<text x="235.4" y="420.8" font-size="2.6" text-anchor="middle" font-family="Liberation Sans, sans-serif" font-weight="bold" fill="#000">2</text>
<text x="273.4" y="420.8" font-size="2.6" text-anchor="middle" font-family="Liberation Sans, sans-serif" font-weight="bold" fill="#000">3</text>
<text x="311.4" y="420.8" font-size="2.6" text-anchor="middle" font-family="Liberation Sans, sans-serif" font-weight="bold" fill="#000">4</text>
<text x="254.5" y="321.07" font-size="4.12" text-anchor="middle" font-family="Liberation Sans, sans-serif" font-weight="bold" fill="#000" stroke="#000" stroke-width="0.12">RadEAD</text>
<line x1="190.60" y1="337.4" x2="190.60" y2="380" stroke="#929292" stroke-width="0.65"/>
<rect x="184.2" y="357" width="12.80" height="14.40" fill="#F8766D" stroke="#444" stroke-width="0.35"/>
<line x1="184.2" y1="366.4" x2="197" y2="366.4" stroke="#444" stroke-width="0.75"/>
<line x1="204.60" y1="350" x2="204.60" y2="380" stroke="#929292" stroke-width="0.65"/>
<rect x="198.2" y="362" width="12.80" height="10.40" fill="#00BFC4" stroke="#444" stroke-width="0.35"/>
<line x1="198.2" y1="369.4" x2="211" y2="369.4" stroke="#444" stroke-width="0.75"/>
<line x1="228.50" y1="334.4" x2="228.50" y2="380" stroke="#929292" stroke-width="0.65"/>
<rect x="222.2" y="350.4" width="12.60" height="17.20" fill="#F8766D" stroke="#444" stroke-width="0.35"/>
<line x1="222.2" y1="358.4" x2="234.8" y2="358.4" stroke="#444" stroke-width="0.75"/>
<line x1="242.80" y1="340" x2="242.80" y2="380" stroke="#929292" stroke-width="0.65"/>
<rect x="236.4" y="351.6" width="12.80" height="16.40" fill="#00BFC4" stroke="#444" stroke-width="0.35"/>
<line x1="236.4" y1="362.4" x2="249.2" y2="362.4" stroke="#444" stroke-width="0.75"/>
<line x1="266.30" y1="362.4" x2="266.30" y2="382" stroke="#929292" stroke-width="0.65"/>
<rect x="260" y="368.6" width="12.60" height="6.00" fill="#F8766D" stroke="#444" stroke-width="0.35"/>
<line x1="260" y1="371.6" x2="272.6" y2="371.6" stroke="#444" stroke-width="0.75"/>
<g stroke="#F8766D" stroke-width="0.9" stroke-linecap="round" fill="#F8766D"><line x1="266.40" y1="358.10" x2="266.40" y2="360.70"/><line x1="265.27" y1="358.75" x2="267.53" y2="360.05"/><line x1="267.53" y1="358.75" x2="265.27" y2="360.05"/><circle cx="266.4" cy="359.4" r="1.15" stroke="none"/></g>
<line x1="280.70" y1="363" x2="280.70" y2="382" stroke="#929292" stroke-width="0.65"/>
<rect x="274.4" y="369" width="12.60" height="6.00" fill="#00BFC4" stroke="#444" stroke-width="0.35"/>
<line x1="274.4" y1="371.6" x2="287" y2="371.6" stroke="#444" stroke-width="0.75"/>
<g stroke="#00BFC4" stroke-width="0.9" stroke-linecap="round" fill="#00BFC4"><line x1="280.60" y1="358.70" x2="280.60" y2="361.30"/><line x1="279.47" y1="359.35" x2="281.73" y2="360.65"/><line x1="281.73" y1="359.35" x2="279.47" y2="360.65"/><circle cx="280.6" cy="360" r="1.15" stroke="none"/></g>
<line x1="304.30" y1="361.6" x2="304.30" y2="377.4" stroke="#929292" stroke-width="0.65"/>
<rect x="298" y="367.8" width="12.60" height="4.20" fill="#F8766D" stroke="#444" stroke-width="0.35"/>
<line x1="298" y1="370" x2="310.6" y2="370" stroke="#444" stroke-width="0.75"/>
<line x1="318.60" y1="361.6" x2="318.60" y2="377.4" stroke="#929292" stroke-width="0.65"/>
<rect x="312.2" y="367.4" width="12.80" height="4.20" fill="#00BFC4" stroke="#444" stroke-width="0.35"/>
<line x1="312.2" y1="369.4" x2="325" y2="369.4" stroke="#444" stroke-width="0.75"/>
</g>
<g>
<line x1="349" y1="322.6" x2="500.6" y2="322.6" stroke="#f3f3f3" stroke-width="0.5"/>
<line x1="349" y1="345.4" x2="500.6" y2="345.4" stroke="#f3f3f3" stroke-width="0.5"/>
<line x1="349" y1="368" x2="500.6" y2="368" stroke="#f3f3f3" stroke-width="0.5"/>
<line x1="349" y1="390.6" x2="500.6" y2="390.6" stroke="#f3f3f3" stroke-width="0.5"/>
<line x1="349" y1="413.4" x2="500.6" y2="413.4" stroke="#f3f3f3" stroke-width="0.5"/>
<path d="M347 322V418.1H502.6" fill="none" stroke="#7a7a7a" stroke-width="0.7"/>
<text x="346.2" y="324.24" font-size="2.9" text-anchor="end" font-family="Liberation Sans, sans-serif" font-weight="bold" fill="#000">0.4</text>
<text x="346.2" y="347.04" font-size="2.9" text-anchor="end" font-family="Liberation Sans, sans-serif" font-weight="bold" fill="#000">0.3</text>
<text x="346.2" y="369.64" font-size="2.9" text-anchor="end" font-family="Liberation Sans, sans-serif" font-weight="bold" fill="#000">0.2</text>
<text x="346.2" y="392.24" font-size="2.9" text-anchor="end" font-family="Liberation Sans, sans-serif" font-weight="bold" fill="#000">0.1</text>
<text x="346.2" y="415.04" font-size="2.9" text-anchor="end" font-family="Liberation Sans, sans-serif" font-weight="bold" fill="#000">0.0</text>
<text x="369" y="420.8" font-size="2.6" text-anchor="middle" font-family="Liberation Sans, sans-serif" font-weight="bold" fill="#000">1</text>
<text x="406" y="420.8" font-size="2.6" text-anchor="middle" font-family="Liberation Sans, sans-serif" font-weight="bold" fill="#000">2</text>
<text x="443" y="420.8" font-size="2.6" text-anchor="middle" font-family="Liberation Sans, sans-serif" font-weight="bold" fill="#000">3</text>
<text x="480.4" y="420.8" font-size="2.6" text-anchor="middle" font-family="Liberation Sans, sans-serif" font-weight="bold" fill="#000">4</text>
<text x="424.6" y="321.03" font-size="4.0" text-anchor="middle" font-family="Liberation Sans, sans-serif" font-weight="bold" fill="#000" stroke="#000" stroke-width="0.12">RadIAD</text>
<line x1="361.90" y1="368" x2="361.90" y2="401.4" stroke="#929292" stroke-width="0.65"/>
<rect x="355.6" y="383.6" width="12.60" height="11.40" fill="#F8766D" stroke="#444" stroke-width="0.35"/>
<line x1="355.6" y1="390.6" x2="368.2" y2="390.6" stroke="#444" stroke-width="0.75"/>
<line x1="376.00" y1="366.4" x2="376.00" y2="401.4" stroke="#929292" stroke-width="0.65"/>
<rect x="369.6" y="378.2" width="12.80" height="15.40" fill="#00BFC4" stroke="#444" stroke-width="0.35"/>
<line x1="369.6" y1="390.6" x2="382.4" y2="390.6" stroke="#444" stroke-width="0.75"/>
<line x1="399.30" y1="345.6" x2="399.30" y2="399.4" stroke="#929292" stroke-width="0.65"/>
<rect x="393" y="368.2" width="12.60" height="16.20" fill="#F8766D" stroke="#444" stroke-width="0.35"/>
<line x1="393" y1="377" x2="405.6" y2="377" stroke="#444" stroke-width="0.75"/>
<g stroke="#F8766D" stroke-width="0.9" stroke-linecap="round" fill="#F8766D"><line x1="399.40" y1="340.30" x2="399.40" y2="342.90"/><line x1="398.27" y1="340.95" x2="400.53" y2="342.25"/><line x1="400.53" y1="340.95" x2="398.27" y2="342.25"/><circle cx="399.4" cy="341.6" r="1.15" stroke="none"/></g>
<line x1="413.20" y1="343" x2="413.20" y2="399.4" stroke="#929292" stroke-width="0.65"/>
<rect x="406.8" y="367.4" width="12.80" height="16.20" fill="#00BFC4" stroke="#444" stroke-width="0.35"/>
<line x1="406.8" y1="374.4" x2="419.6" y2="374.4" stroke="#444" stroke-width="0.75"/>
<g stroke="#00BFC4" stroke-width="0.9" stroke-linecap="round" fill="#00BFC4"><line x1="413.20" y1="338.30" x2="413.20" y2="340.90"/><line x1="412.07" y1="338.95" x2="414.33" y2="340.25"/><line x1="414.33" y1="338.95" x2="412.07" y2="340.25"/><circle cx="413.2" cy="339.6" r="1.15" stroke="none"/></g>
<line x1="436.30" y1="334.4" x2="436.30" y2="399.4" stroke="#929292" stroke-width="0.65"/>
<rect x="430" y="361.6" width="12.60" height="18.80" fill="#F8766D" stroke="#444" stroke-width="0.35"/>
<line x1="430" y1="370.2" x2="442.6" y2="370.2" stroke="#444" stroke-width="0.75"/>
<line x1="450.40" y1="334.4" x2="450.40" y2="399.4" stroke="#929292" stroke-width="0.65"/>
<rect x="444" y="360.8" width="12.80" height="20.80" fill="#00BFC4" stroke="#444" stroke-width="0.35"/>
<line x1="444" y1="371.6" x2="456.8" y2="371.6" stroke="#444" stroke-width="0.75"/>
<line x1="473.40" y1="342.6" x2="473.40" y2="391.6" stroke="#929292" stroke-width="0.65"/>
<rect x="467" y="364.2" width="12.80" height="18.60" fill="#F8766D" stroke="#444" stroke-width="0.35"/>
<line x1="467" y1="372.6" x2="479.8" y2="372.6" stroke="#444" stroke-width="0.75"/>
<line x1="487.40" y1="353" x2="487.40" y2="390.6" stroke="#929292" stroke-width="0.65"/>
<rect x="481" y="364.6" width="12.80" height="17.80" fill="#00BFC4" stroke="#444" stroke-width="0.35"/>
<line x1="481" y1="372.4" x2="493.8" y2="372.4" stroke="#444" stroke-width="0.75"/>
</g>
<g>
<line x1="165.8" y1="429" x2="347.4" y2="429" stroke="#f3f3f3" stroke-width="0.5"/>
<line x1="165.8" y1="456.2" x2="347.4" y2="456.2" stroke="#f3f3f3" stroke-width="0.5"/>
<line x1="165.8" y1="483.4" x2="347.4" y2="483.4" stroke="#f3f3f3" stroke-width="0.5"/>
<line x1="165.8" y1="510.4" x2="347.4" y2="510.4" stroke="#f3f3f3" stroke-width="0.5"/>
<line x1="165.8" y1="537.1" x2="347.4" y2="537.1" stroke="#f3f3f3" stroke-width="0.5"/>
<path d="M163.8 427V541.2H349.4" fill="none" stroke="#7a7a7a" stroke-width="0.7"/>
<text x="163" y="430.90" font-size="3.6" text-anchor="end" font-family="Liberation Sans, sans-serif" font-weight="bold" fill="#000">1.8</text>
<text x="163" y="458.10" font-size="3.6" text-anchor="end" font-family="Liberation Sans, sans-serif" font-weight="bold" fill="#000">1.6</text>
<text x="163" y="485.30" font-size="3.6" text-anchor="end" font-family="Liberation Sans, sans-serif" font-weight="bold" fill="#000">1.4</text>
<text x="163" y="512.30" font-size="3.6" text-anchor="end" font-family="Liberation Sans, sans-serif" font-weight="bold" fill="#000">1.2</text>
<text x="163" y="539.00" font-size="3.6" text-anchor="end" font-family="Liberation Sans, sans-serif" font-weight="bold" fill="#000">1.0</text>
<text x="189.7" y="545.0" font-size="3.3" text-anchor="middle" font-family="Liberation Sans, sans-serif" font-weight="bold" fill="#000">1</text>
<text x="234" y="545.0" font-size="3.3" text-anchor="middle" font-family="Liberation Sans, sans-serif" font-weight="bold" fill="#000">2</text>
<text x="278.4" y="545.0" font-size="3.3" text-anchor="middle" font-family="Liberation Sans, sans-serif" font-weight="bold" fill="#000">3</text>
<text x="322.6" y="545.0" font-size="3.3" text-anchor="middle" font-family="Liberation Sans, sans-serif" font-weight="bold" fill="#000">4</text>
<text x="256.3" y="425.75" font-size="4.88" text-anchor="middle" font-family="Liberation Sans, sans-serif" font-weight="bold" fill="#000" stroke="#000" stroke-width="0.12">TORT</text>
<line x1="181.55" y1="487.4" x2="181.55" y2="530.7" stroke="#858585" stroke-width="0.65"/>
<rect x="174.1" y="505.2" width="14.90" height="16.50" fill="#F8766D" stroke="#444" stroke-width="0.45"/>
<line x1="174.1" y1="516.3" x2="189" y2="516.3" stroke="#444" stroke-width="0.9"/>
<line x1="198.50" y1="487.4" x2="198.50" y2="528.8" stroke="#858585" stroke-width="0.65"/>
<rect x="190.9" y="504.2" width="15.20" height="17.50" fill="#00BFC4" stroke="#444" stroke-width="0.45"/>
<line x1="190.9" y1="516.3" x2="206.1" y2="516.3" stroke="#444" stroke-width="0.9"/>
<line x1="225.95" y1="501.1" x2="225.95" y2="527.6" stroke="#858585" stroke-width="0.65"/>
<rect x="218.4" y="506.1" width="15.10" height="9.20" fill="#F8766D" stroke="#444" stroke-width="0.45"/>
<line x1="218.4" y1="509.4" x2="233.5" y2="509.4" stroke="#444" stroke-width="0.9"/>
<line x1="242.75" y1="501.6" x2="242.75" y2="521.7" stroke="#858585" stroke-width="0.65"/>
<rect x="235.2" y="505.9" width="15.10" height="8.70" fill="#00BFC4" stroke="#444" stroke-width="0.45"/>
<line x1="235.2" y1="509" x2="250.3" y2="509" stroke="#444" stroke-width="0.9"/>
<line x1="270.10" y1="463.3" x2="270.10" y2="515.3" stroke="#858585" stroke-width="0.65"/>
<rect x="262.5" y="484.3" width="15.20" height="17.60" fill="#F8766D" stroke="#444" stroke-width="0.45"/>
<line x1="262.5" y1="491.7" x2="277.7" y2="491.7" stroke="#444" stroke-width="0.9"/>
<g stroke="#F8766D" stroke-width="0.75" stroke-linecap="round" fill="#F8766D"><line x1="270.30" y1="455.70" x2="270.30" y2="460.10"/><line x1="268.39" y1="456.80" x2="272.21" y2="459.00"/><line x1="272.21" y1="456.80" x2="268.39" y2="459.00"/><circle cx="270.3" cy="457.9" r="0.5" stroke="none"/></g>
<line x1="286.90" y1="466.6" x2="286.90" y2="515.3" stroke="#858585" stroke-width="0.65"/>
<rect x="279.3" y="487.7" width="15.20" height="15.10" fill="#00BFC4" stroke="#444" stroke-width="0.45"/>
<line x1="279.3" y1="491.7" x2="294.5" y2="491.7" stroke="#444" stroke-width="0.9"/>
<g stroke="#00BFC4" stroke-width="0.75" stroke-linecap="round" fill="#00BFC4"><line x1="286.70" y1="459.20" x2="286.70" y2="463.60"/><line x1="284.79" y1="460.30" x2="288.61" y2="462.50"/><line x1="288.61" y1="460.30" x2="284.79" y2="462.50"/><circle cx="286.7" cy="461.4" r="0.5" stroke="none"/></g>
<line x1="314.45" y1="471.3" x2="314.45" y2="507.1" stroke="#858585" stroke-width="0.65"/>
<rect x="307" y="479.6" width="14.90" height="16.10" fill="#F8766D" stroke="#444" stroke-width="0.45"/>
<line x1="307" y1="489.3" x2="321.9" y2="489.3" stroke="#444" stroke-width="0.9"/>
<line x1="331.15" y1="471.3" x2="331.15" y2="507.1" stroke="#858585" stroke-width="0.65"/>
<rect x="323.6" y="480.3" width="15.10" height="15.40" fill="#00BFC4" stroke="#444" stroke-width="0.45"/>
<line x1="323.6" y1="491.2" x2="338.7" y2="491.2" stroke="#444" stroke-width="0.9"/>
</g>
</svg>
</body></html>
